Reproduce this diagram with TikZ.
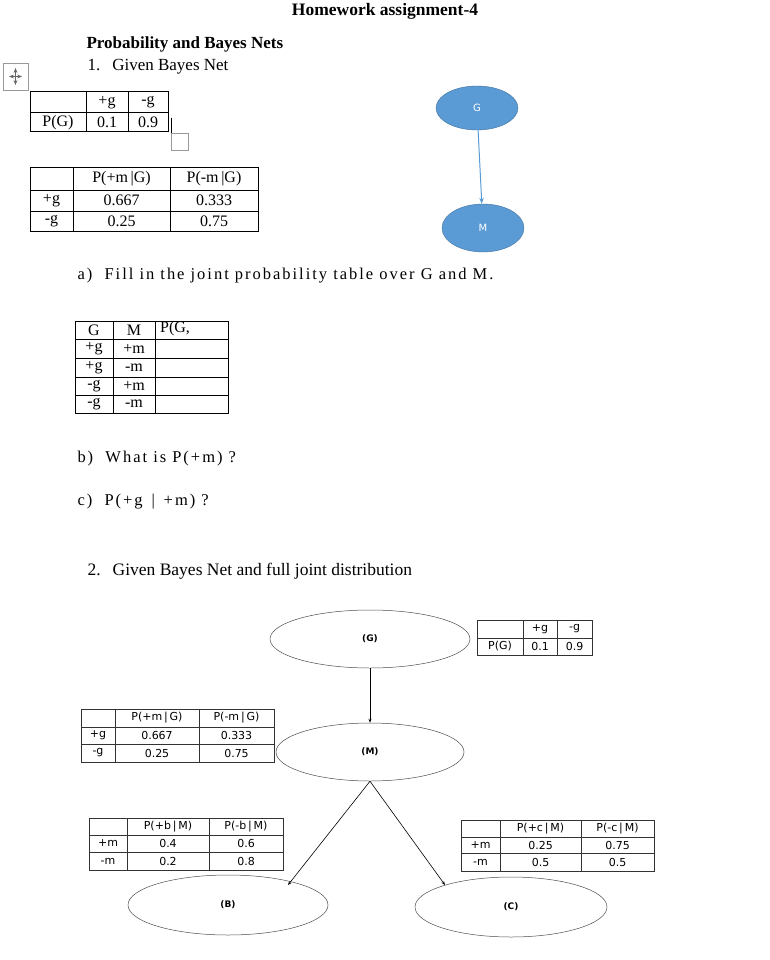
\documentclass[tikz,border=0pt]{standalone}
\usepackage{fontspec}
\setmainfont{Liberation Serif}
\newfontfamily\dv{DejaVu Sans}
\newfontfamily\wide[LetterSpace=12]{Liberation Serif}
\usetikzlibrary{arrows.meta,shapes.geometric}
\newcommand\cb[6]{% style x1 y1 x2 y2 text
  \draw[#1] (#2,#3) rectangle (#4,#5);
  \node[inner sep=0pt] at ({(#2+#4)/2},{(#3+#5)/2}) {#6};}
\tikzset{tA/.style={line width=1pt}, tB/.style={line width=0.5pt,draw=black!80},
  ser/.style={font=\fontsize{16}{16}\selectfont},
  sans/.style={font=\dv\fontsize{11}{11}\selectfont},
  qtext/.style={anchor=west,font=\wide\fontsize{16.5}{16.5}\selectfont},
  bn/.style={draw,ellipse,line width=0.5pt,draw=black!70,font=\dv\bfseries\fontsize{9}{9}\selectfont}}
\definecolor{nodeblue}{HTML}{5B9BD5}
\definecolor{nodeedge}{HTML}{41719C}
\begin{document}
\begin{tikzpicture}[x=1pt,y=-1pt]
\useasboundingbox (0,0) rectangle (770,960);
% headings
\node[font=\bfseries\fontsize{17.5}{17.5}\selectfont] (title) at (385,11) {Homework assignment-4};
\node[anchor=west,font=\bfseries\fontsize{17}{17}\selectfont] (h2) at (83,44) {Probability and Bayes Nets};
\node[anchor=west,font=\fontsize{17}{17}\selectfont] (q1) at (84,67) {1.\hspace{12pt}Given Bayes Net};
% widget marks
\draw[black!40] (3,63) rectangle (28,90);
\draw[black!60,<->,>=Stealth] (9,76.5) -- (22,76.5);
\draw[black!60,<->,>=Stealth] (15.5,68) -- (15.5,85);
\draw[line width=1pt] (171,118) -- (171,133);
\draw[black!40] (171,133) rectangle (188,150);
% table P(G)
\begin{scope}[ser]
\cb{tA}{30}{92}{86}{113}{}
\cb{tA}{86}{92}{128}{113}{+g}
\cb{tA}{128}{92}{168}{113}{-g}
\cb{tA}{30}{113}{86}{132}{P(G)}
\cb{tA}{86}{113}{128}{132}{0.1}
\cb{tA}{128}{113}{168}{132}{0.9}
% table P(M|G)
\cb{tA}{30}{168}{73}{190}{}
\cb{tA}{73}{168}{170}{190}{P(+m\,|G)}
\cb{tA}{170}{168}{258}{190}{P(-m\,|G)}
\cb{tA}{30}{190}{73}{211}{+g}
\cb{tA}{73}{190}{170}{211}{0.667}
\cb{tA}{170}{190}{258}{211}{0.333}
\cb{tA}{30}{211}{73}{231}{-g}
\cb{tA}{73}{211}{170}{231}{0.25}
\cb{tA}{170}{211}{258}{231}{0.75}
\end{scope}
% blue net
\node[ellipse,fill=nodeblue,draw=nodeedge,minimum width=82pt,minimum height=44pt,text=white,font=\dv\fontsize{10}{10}\selectfont] (g1) at (477,108) {G};
\node[ellipse,fill=nodeblue,draw=nodeedge,minimum width=82pt,minimum height=48pt,text=white,font=\dv\fontsize{10}{10}\selectfont] (m1) at (483,228) {M};
\draw[nodeblue,line width=1pt,-{Stealth[length=6pt]}] (g1) -- (m1);
% part a
\node[qtext] (qa) at (74,276) {a)\ \ Fill in the joint probability table over G and M.};
\begin{scope}[ser]
\cb{tA}{75}{321}{113}{339}{G}
\cb{tA}{113}{321}{155}{339}{M}
\cb{tA}{155}{321}{228}{339}{}
\node[anchor=west,inner sep=0pt] (pgm) at (160,329) {P(G,};
\cb{tA}{75}{339}{113}{358}{+g}
\cb{tA}{113}{339}{155}{358}{+m}
\cb{tA}{155}{339}{228}{358}{}
\cb{tA}{75}{358}{113}{377}{+g}
\cb{tA}{113}{358}{155}{377}{-m}
\cb{tA}{155}{358}{228}{377}{}
\cb{tA}{75}{377}{113}{395}{-g}
\cb{tA}{113}{377}{155}{395}{+m}
\cb{tA}{155}{377}{228}{395}{}
\cb{tA}{75}{395}{113}{413}{-g}
\cb{tA}{113}{395}{155}{413}{-m}
\cb{tA}{155}{395}{228}{413}{}
\end{scope}
\node[qtext] (qb) at (74,459) {b)\ \ What is P(+m) ?};
\node[qtext] (qc) at (74,502) {c)\ \ P(+g \,|\, +m) ?};
\node[anchor=west,font=\fontsize{17.5}{17.5}\selectfont] (q2) at (84,571) {2.\hspace{12pt}Given Bayes Net and full joint distribution};
% second net
\node[bn,minimum width=200pt,minimum height=58pt] (G) at (370,639) {(G)};
\node[bn,minimum width=188pt,minimum height=58pt] (M) at (370,752) {(M)};
\node[bn,minimum width=200pt,minimum height=60pt] (B) at (228,905) {(B)};
\node[bn,minimum width=192pt,minimum height=60pt] (C) at (511,907) {(C)};
\coordinate (bt) at (288,885);
\coordinate (ct) at (445,885);
\draw[line width=0.6pt,-{Stealth[length=4pt]}] (G) -- (M);
\draw[line width=0.6pt,-{Stealth[length=4pt]}] (M.south) -- (bt);
\draw[line width=0.6pt,-{Stealth[length=4pt]}] (M.south) -- (ct);
\begin{scope}[sans]
\cb{tB}{477}{620}{523}{638}{}
\cb{tB}{523}{620}{557}{638}{+g}
\cb{tB}{557}{620}{592}{638}{-g}
\cb{tB}{477}{638}{523}{655}{P(G)}
\cb{tB}{523}{638}{557}{655}{0.1}
\cb{tB}{557}{638}{592}{655}{0.9}
%
\cb{tB}{81}{709}{115}{727}{}
\cb{tB}{115}{709}{199}{727}{P(+m\,|\,G)}
\cb{tB}{199}{709}{274}{727}{P(-m\,|\,G)}
\cb{tB}{81}{727}{115}{744}{+g}
\cb{tB}{115}{727}{199}{744}{0.667}
\cb{tB}{199}{727}{274}{744}{0.333}
\cb{tB}{81}{744}{115}{762}{-g}
\cb{tB}{115}{744}{199}{762}{0.25}
\cb{tB}{199}{744}{274}{762}{0.75}
%
\cb{tB}{89}{818}{127}{835}{}
\cb{tB}{127}{818}{209}{835}{P(+b\,|\,M)}
\cb{tB}{209}{818}{283}{835}{P(-b\,|\,M)}
\cb{tB}{89}{835}{127}{852}{+m}
\cb{tB}{127}{835}{209}{852}{0.4}
\cb{tB}{209}{835}{283}{852}{0.6}
\cb{tB}{89}{852}{127}{870}{-m}
\cb{tB}{127}{852}{209}{870}{0.2}
\cb{tB}{209}{852}{283}{870}{0.8}
%
\cb{tB}{461}{820}{500}{837}{}
\cb{tB}{500}{820}{581}{837}{P(+c\,|\,M)}
\cb{tB}{581}{820}{654}{837}{P(-c\,|\,M)}
\cb{tB}{461}{837}{500}{853}{+m}
\cb{tB}{500}{837}{581}{853}{0.25}
\cb{tB}{581}{837}{654}{853}{0.75}
\cb{tB}{461}{853}{500}{871}{-m}
\cb{tB}{500}{853}{581}{871}{0.5}
\cb{tB}{581}{853}{654}{871}{0.5}
\end{scope}
\end{tikzpicture}
\end{document}
